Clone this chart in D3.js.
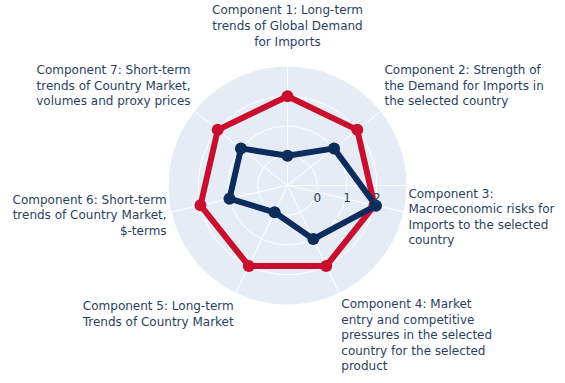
<!DOCTYPE html>
<html lang="en">
  <head>
    <meta charset="UTF-8" />
    <title>Component radar</title>
    <style>
      body {
        margin: 0;
        background: #fff;
        font-family: "DejaVu Sans", Verdana, sans-serif;
      }
    </style>
  </head>
  <body>
    <div id="chart"></div>

    <script src="https://d3js.org/d3.v7.min.js"></script>
    <script>
      // categories, one label per spoke (line breaks as in the picture)
      const components = [
        ["Component 1: Long-term", "trends of Global Demand", "for Imports"],
        ["Component 2: Strength of", "the Demand for Imports in", "the selected country"],
        ["Component 3:", "Macroeconomic risks for", "Imports to the selected", "country"],
        ["Component 4: Market", "entry and competitive", "pressures in the selected", "country for the selected", "product"],
        ["Component 5: Long-term", "Trends of Country Market"],
        ["Component 6: Short-term", "trends of Country Market,", "$-terms"],
        ["Component 7: Short-term", "trends of Country Market,", "volumes and proxy prices"],
      ];
      const redValues = [2, 2, 2, 2, 2, 2, 2];
      const blueValues = [0, 1, 2.05, 1, 0, 1, 1];
      const radialTicks = [0, 1, 2];
      const radialRange = [-1, 3];

      const width = 565,
        height = 383;
      const cx = 287.5,
        cy = 185.5,
        R = 119;
      const textColor = "#2a3f5f";
      const fontSize = 12,
        lineH = fontSize * 1.3;

      const svg = d3
        .select("#chart")
        .append("svg")
        .attr("width", width)
        .attr("height", height);

      const g = svg.append("g").attr("transform", `translate(${cx},${cy})`);

      const r = d3.scaleLinear().domain(radialRange).range([0, R]);
      // first category at top, going clockwise
      const angle = d3
        .scaleLinear()
        .domain([0, components.length])
        .range([Math.PI / 2, Math.PI / 2 - 2 * Math.PI]);

      // background disc
      g.append("circle").attr("r", R).style("fill", "#E5ECF6");

      // grid circles
      g.selectAll(".grid")
        .data(radialTicks)
        .enter()
        .append("circle")
        .attr("class", "grid")
        .attr("r", (d) => r(d))
        .style("fill", "none")
        .style("stroke", "#fff")
        .style("stroke-width", 1);

      // spokes
      g.selectAll(".spoke")
        .data(components)
        .enter()
        .append("line")
        .attr("class", "spoke")
        .attr("x1", 0)
        .attr("y1", 0)
        .attr("x2", (d, i) => R * Math.cos(angle(i)))
        .attr("y2", (d, i) => -R * Math.sin(angle(i)))
        .style("stroke", "#fff")
        .style("stroke-width", 1);

      // radial axis line (angle 0)
      g.append("line")
        .attr("x1", 0)
        .attr("y1", 0)
        .attr("x2", R)
        .attr("y2", 0)
        .style("stroke", "#fff")
        .style("stroke-width", 1);

      // traces
      function drawTrace(values, color) {
        const pts = values.map((v, i) => [
          r(v) * Math.cos(angle(i)),
          -r(v) * Math.sin(angle(i)),
        ]);
        g.append("path")
          .attr("d", d3.line().curve(d3.curveLinearClosed)(pts))
          .style("fill", "none")
          .style("stroke", color)
          .style("stroke-width", 6)
          .style("stroke-linejoin", "round");
        g.selectAll(null)
          .data(pts)
          .enter()
          .append("circle")
          .attr("cx", (d) => d[0])
          .attr("cy", (d) => d[1])
          .attr("r", 6)
          .style("fill", color);
      }
      drawTrace(redValues, "#C8102E");
      drawTrace(blueValues, "#0C2C5C");

      // radial tick labels
      g.selectAll(".rtick")
        .data(radialTicks)
        .enter()
        .append("text")
        .attr("class", "rtick")
        .attr("x", (d) => r(d))
        .attr("y", 16)
        .attr("text-anchor", "middle")
        .style("font-size", fontSize + "px")
        .style("fill", textColor)
        .text((d) => d);

      // angular labels, placed outside the disc
      const pad = 5;
      components.forEach((lines, i) => {
        const a = angle(i);
        const cos = Math.cos(a),
          sin = Math.sin(a);
        const ff = sin > 0 ? 0.2 : 1;
        const x = (R + pad) * cos;
        const y =
          2 -
          R * sin -
          sin * (pad + fontSize * ff) +
          Math.abs(cos) * fontSize * 0.35 -
          0.5 * (1 + sin) * lines.length * lineH;
        const anchor = Math.abs(cos) < 0.1 ? "middle" : cos > 0 ? "start" : "end";
        const t = g
          .append("text")
          .attr("text-anchor", anchor)
          .style("font-size", fontSize + "px")
          .style("fill", textColor);
        lines.forEach((line, j) => {
          t.append("tspan")
            .attr("x", x)
            .attr("y", y + j * lineH)
            .text(line);
        });
      });
    </script>
  </body>
</html>
